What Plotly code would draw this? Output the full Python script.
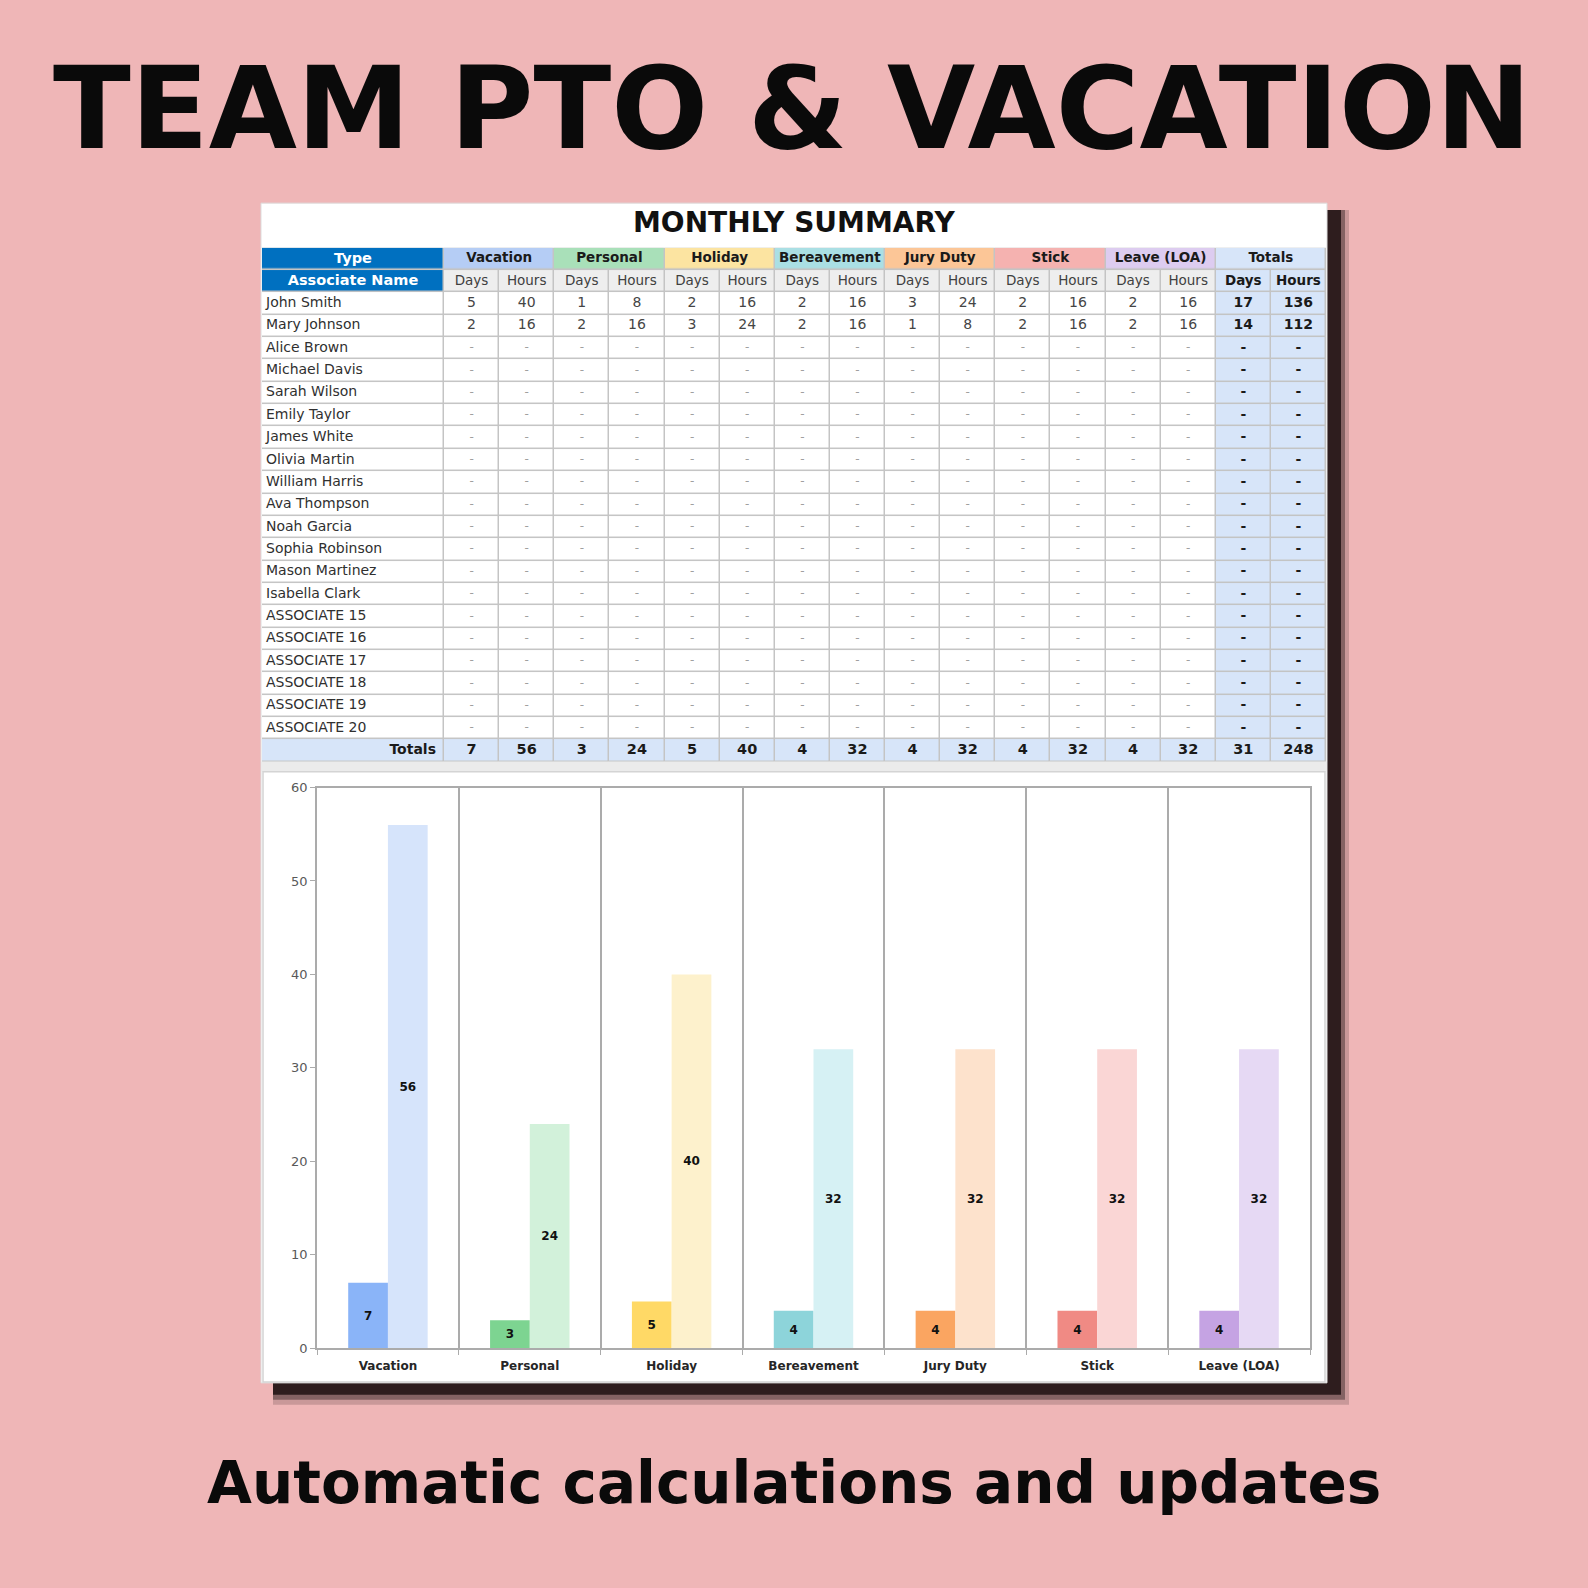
import plotly.graph_objects as go

# ---------------- data ----------------
categories = ["Vacation", "Personal", "Holiday", "Bereavement", "Jury Duty", "Stick", "Leave (LOA)"]
associates = ["John Smith", "Mary Johnson", "Alice Brown", "Michael Davis", "Sarah Wilson",
              "Emily Taylor", "James White", "Olivia Martin", "William Harris", "Ava Thompson",
              "Noah Garcia", "Sophia Robinson", "Mason Martinez", "Isabella Clark",
              "ASSOCIATE 15", "ASSOCIATE 16", "ASSOCIATE 17", "ASSOCIATE 18", "ASSOCIATE 19", "ASSOCIATE 20"]
john_days = [5, 1, 2, 2, 3, 2, 2]
john_hours = [40, 8, 16, 16, 24, 16, 16]
mary_days = [2, 2, 3, 2, 1, 2, 2]
mary_hours = [16, 16, 24, 16, 8, 16, 16]
total_days = [7, 3, 5, 4, 4, 4, 4]
total_hours = [56, 24, 40, 32, 32, 32, 32]

# ---------------- styles ----------------
W = H = 1588
PINK = "#EFB6B7"
header_cols = ["#B5CDF5", "#A9E0B9", "#FCE4A1", "#AADFE4", "#FCC697", "#F5B2B0", "#DDCCF0"]
days_cols = ["#8AB4F8", "#7DD491", "#FFD966", "#8DD4DA", "#FAA561", "#F08A84", "#C5A3E3"]
hours_cols = ["#D6E4FB", "#D2F1DA", "#FDF1CC", "#D6F1F4", "#FDE2CC", "#FAD6D5", "#E6D9F4"]
BLUE = "#0070C0"
TOT = "#D7E5F9"
SUB = "#EEEEEE"
palette = [BLUE, "#FFFFFF", SUB, TOT] + header_cols
n_pal = len(palette)
cscale = []
for i, c in enumerate(palette):
    cscale.append([i / n_pal, c])
    cscale.append([(i + 1) / n_pal, c])

FONT = "DejaVu Sans"


def px(x):
    return x / W


def py(y):
    return 1 - y / H


# table geometry (pixels)
TX0, TX1, TY0, TY1 = 262, 1326, 243, 762
NAME_W = 182
COL_W = (TX1 - TX0 - NAME_W) / 16
n_rows = 23

col_edges = [0, NAME_W] + [NAME_W + COL_W * (k + 1) for k in range(16)]
group_edges = [0, NAME_W] + [NAME_W + COL_W * 2 * (k + 1) for k in range(8)]
col_centers = [NAME_W + COL_W * (j + 0.5) for j in range(16)]
group_centers = [NAME_W + COL_W * (2 * k + 1) for k in range(8)]

fig = go.Figure()

# ---- header row (merged group cells)
z_top = [[0] + [4 + k for k in range(7)] + [3]]
fig.add_trace(go.Heatmap(z=z_top, x=group_edges, y=[-0.5, 0.5], colorscale=cscale,
                         zmin=-0.5, zmax=n_pal - 0.5, showscale=False, xgap=1.5, ygap=1.5,
                         hoverinfo="skip", xaxis="x", yaxis="y"))

# ---- body rows
z_body = []
z_body.append([0] + [2] * 14 + [3, 3])
for _ in associates:
    z_body.append([1] + [1] * 14 + [3, 3])
z_body.append([3] * 17)
fig.add_trace(go.Heatmap(z=z_body, x=col_edges, y=[r + 0.5 for r in range(n_rows)],
                         colorscale=cscale, zmin=-0.5, zmax=n_pal - 0.5, showscale=False,
                         xgap=1.5, ygap=1.5, hoverinfo="skip", xaxis="x", yaxis="y"))


def text_trace(xs, ys, texts, size, color, pos="middle center", bold=False):
    if bold:
        texts = ["<b>%s</b>" % t for t in texts]
    fig.add_trace(go.Scatter(x=xs, y=ys, text=texts, mode="text", textposition=pos,
                             textfont=dict(family=FONT, size=size, color=color),
                             hoverinfo="skip", cliponaxis=False, xaxis="x", yaxis="y"))


# header texts
text_trace([NAME_W / 2], [0], ["Type"], 14.5, "white", bold=True)
text_trace(group_centers[:7], [0] * 7, categories, 13.5, "#1a1a1a", bold=True)
text_trace([group_centers[7]], [0], ["Totals"], 13.5, "#1a1a1a", bold=True)
text_trace([NAME_W / 2], [1], ["Associate Name"], 14.5, "white", bold=True)
text_trace(col_centers[:14], [1] * 14, ["Days", "Hours"] * 7, 13.5, "#404040")
text_trace(col_centers[14:], [1, 1], ["Days", "Hours"], 13.5, "#1a1a1a", bold=True)

# names
text_trace([4] * len(associates), [r + 2 for r in range(len(associates))], associates,
           14, "#303030", pos="middle right")

# values
vx, vy, vt, dx, dy = [], [], [], [], []
tx, ty, tt = [], [], []
for r, name in enumerate(associates):
    row = r + 2
    if name == "John Smith":
        d, h = john_days, john_hours
    elif name == "Mary Johnson":
        d, h = mary_days, mary_hours
    else:
        d, h = None, None
    for k in range(7):
        if d is None:
            dx += [col_centers[2 * k], col_centers[2 * k + 1]]
            dy += [row, row]
        else:
            vx += [col_centers[2 * k], col_centers[2 * k + 1]]
            vy += [row, row]
            vt += [str(d[k]), str(h[k])]
    tx += [col_centers[14], col_centers[15]]
    ty += [row, row]
    if d is None:
        tt += ["-", "-"]
    else:
        tt += [str(sum(d)), str(sum(h))]
text_trace(vx, vy, vt, 14, "#454545")
text_trace(dx, dy, ["-"] * len(dx), 12, "#A0A0A0")
text_trace(tx, ty, tt, 14, "#1a1a1a", bold=True)

# totals row
text_trace([NAME_W - 8], [22], ["Totals"], 14, "#1a1a1a", pos="middle left", bold=True)
tot_vals = []
for k in range(7):
    tot_vals += [str(total_days[k]), str(total_hours[k])]
tot_vals += [str(sum(total_days)), str(sum(total_hours))]
text_trace(col_centers, [22] * 16, tot_vals, 14.5, "#1a1a1a", bold=True)

# ---- chart
for vals, cols, nm in [(total_days, days_cols, "Days"), (total_hours, hours_cols, "Hours")]:
    fig.add_trace(go.Bar(x=categories, y=vals, name=nm, marker=dict(color=cols, line=dict(width=0)),
                         texttemplate="<b>%{y}</b>", textposition="inside", insidetextanchor="middle",
                         textangle=0, textfont=dict(family=FONT, size=12, color="#111111"),
                         hoverinfo="skip", xaxis="x2", yaxis="y2"))

# ---------------- shapes ----------------
shapes = []
# shadow layers
for (x1, y1, a) in [(1349, 1411, 0.18), (1345, 1406, 0.4), (1341, 1401, 0.85)]:
    shapes.append(dict(type="rect", xref="paper", yref="paper", x0=px(273), x1=px(x1),
                       y0=py(y1), y1=py(205), fillcolor="rgba(30,18,18,%s)" % a,
                       line=dict(width=0), layer="below"))
# panel
shapes.append(dict(type="rect", xref="paper", yref="paper", x0=px(261), x1=px(1327),
                   y0=py(1389), y1=py(198), fillcolor="white",
                   line=dict(width=1, color="#DDDDDD"), layer="below"))
# grid background behind table
shapes.append(dict(type="rect", xref="paper", yref="paper", x0=px(TX0), x1=px(TX1),
                   y0=py(TY1), y1=py(TY0), fillcolor="#C4C4C4", line=dict(width=0), layer="below"))
# gray band
shapes.append(dict(type="rect", xref="paper", yref="paper", x0=px(261), x1=px(1327),
                   y0=py(772), y1=py(TY1), fillcolor="#EBEBEB", line=dict(width=0), layer="below"))
# chart box
shapes.append(dict(type="rect", xref="paper", yref="paper", x0=px(263), x1=px(1325),
                   y0=py(1388), y1=py(772), fillcolor="white",
                   line=dict(width=1.5, color="#D4D4D4"), layer="below"))

annotations = [
    dict(text="<b>TEAM PTO &amp; VACATION</b>", x=px(792), y=py(102), xref="paper", yref="paper",
         showarrow=False, xanchor="center", yanchor="middle",
         font=dict(family=FONT, size=114, color="#0a0a0a")),
    dict(text="<b>Automatic calculations and updates</b>", x=px(794), y=py(1490), xref="paper", yref="paper",
         showarrow=False, xanchor="center", yanchor="middle",
         font=dict(family=FONT, size=58, color="#0a0a0a")),
    dict(text="<b>MONTHLY SUMMARY</b>", x=px(794), y=py(218), xref="paper", yref="paper",
         showarrow=False, xanchor="center", yanchor="middle",
         font=dict(family=FONT, size=28, color="#111111")),
]

fig.update_layout(
    width=W, height=H, margin=dict(l=0, r=0, t=0, b=0),
    paper_bgcolor=PINK, plot_bgcolor="rgba(0,0,0,0)", showlegend=False,
    barmode="group", bargap=0.44, bargroupgap=0,
    shapes=shapes, annotations=annotations,
    xaxis=dict(domain=[px(TX0), px(TX1)], range=[0, TX1 - TX0], visible=False, fixedrange=True),
    yaxis=dict(domain=[py(TY1), py(TY0)], range=[n_rows - 0.5, -0.5], visible=False, fixedrange=True),
    xaxis2=dict(domain=[px(317), px(1310)], anchor="y2", type="category",
                tickson="boundaries", showgrid=True, gridcolor="#ABABAB", gridwidth=1.5,
                showline=True, mirror=True, linecolor="#ABABAB", linewidth=1.5,
                ticks="outside", ticklen=5, tickcolor="#ABABAB", ticklabelstandoff=6,
                tickfont=dict(family=FONT, size=12, color="#262626", weight="bold"), zeroline=False),
    yaxis2=dict(domain=[py(1354), py(788)], anchor="x2", range=[0, 60], dtick=10,
                showgrid=False, showline=True, mirror=True, linecolor="#ABABAB", linewidth=1.5,
                ticks="outside", ticklen=5, tickcolor="#ABABAB", zeroline=False,
                tickfont=dict(family=FONT, size=13, color="#595959")),
)

fig.write_html("out.html", config={"displayModeBar": False},
               post_script="document.body.style.margin='0';document.body.style.overflow='hidden';")
